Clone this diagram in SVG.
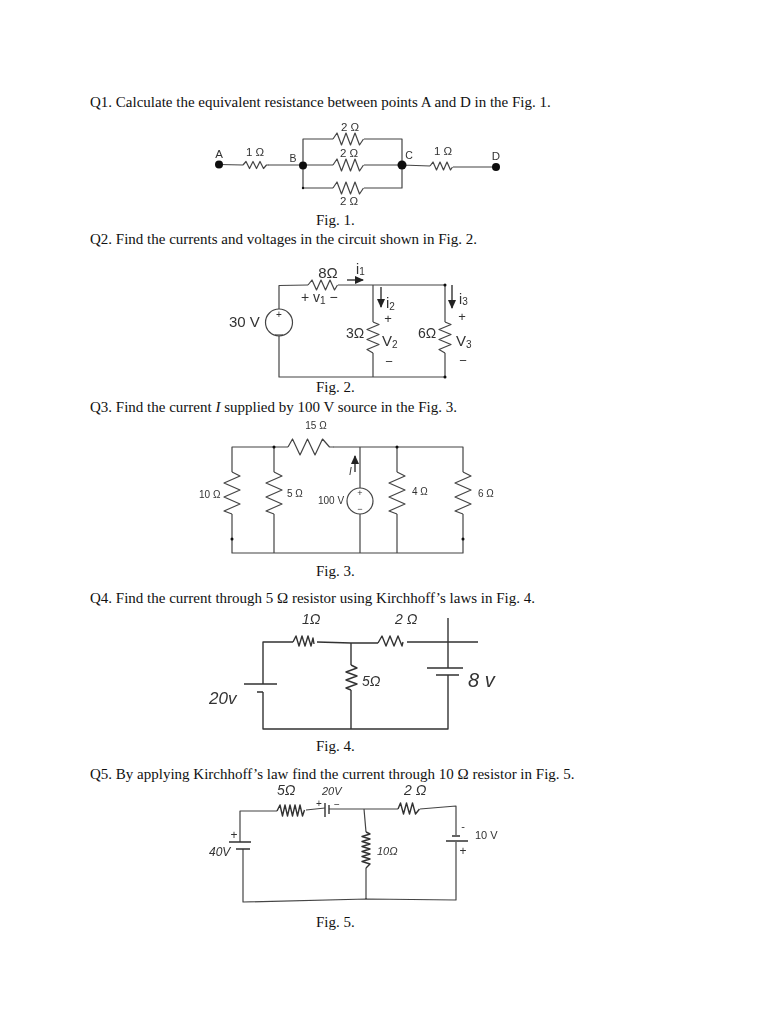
<svg xmlns="http://www.w3.org/2000/svg" width="768" height="1024" viewBox="0 0 768 1024">
<style>
.q{font-family:"Liberation Serif","Times New Roman",serif;font-size:15px;fill:#111}
.s{font-family:"Liberation Sans",Arial,sans-serif;fill:#333}
.h{font-family:"Liberation Sans",Arial,sans-serif;fill:#333;font-style:italic}
.w{fill:none;stroke:#444;stroke-width:1.200;stroke-linejoin:round}
.t{fill:none;stroke:#333;stroke-width:1.400;stroke-linejoin:round}
.f{fill:#111;stroke:none}
.soft{filter:url(#soft)}
</style>
<defs>
<filter id="soft" x="-5%" y="-5%" width="110%" height="110%"><feGaussianBlur stdDeviation="0.35"/></filter>
<marker id="ah" markerWidth="11" markerHeight="9" refX="8" refY="4" orient="auto" markerUnits="userSpaceOnUse"><path d="M0 0L9 4L0 8Z" fill="#222"/></marker>
</defs>
<rect width="768" height="1024" fill="#fff"/>
<g id="questions">
<text class="q" x="90" y="107">Q1. Calculate the equivalent resistance between points A and D in the Fig. 1.</text>
<text class="q" x="316" y="225">Fig. 1.</text>
<text class="q" x="90" y="244">Q2. Find the currents and voltages in the circuit shown in Fig. 2.</text>
<text class="q" x="316" y="392">Fig. 2.</text>
<text class="q" x="90" y="412">Q3. Find the current <tspan font-style="italic">I</tspan> supplied by 100 V source in the Fig. 3.</text>
<text class="q" x="316" y="576">Fig. 3.</text>
<text class="q" x="90" y="603">Q4. Find the current through 5 Ω resistor using Kirchhoff’s laws in Fig. 4.</text>
<text class="q" x="316" y="751">Fig. 4.</text>
<text class="q" x="90" y="779">Q5. By applying Kirchhoff’s law find the current through 10 Ω resistor in Fig. 5.</text>
<text class="q" x="316" y="927">Fig. 5.</text>
</g>
<g id="connectors" class="soft">
<path class="w" d="M219 164.500L243 165M268 165H303M333 139H303V188H333M364 139H402V188H364M303 165H333M364 165H402M402 165L430 166M453 167H496"/>
<path class="w" d="M279 309V285.500L308 285M338 285H445M373 285V322M373 353V377M445 285V322M445 353V377M279 336V377H445"/>
<path class="w" d="M232 472V447H288M333 447H463V472M232 514V553H463V514M274 447V472M274 514V553M397 447V472M397 514V553M360 447V488M360 514V553"/>
<path class="t" d="M263 684V642H293M317 642L351 643H378M407 642H478M351 643V665M351 690V729M263 692V729H448V675M448 618V668"/>
<path class="w" d="M240 842V811H277M306 810L325 808M329 809L364 809H398M420 809L456 806V835M364 809L366 832M366 868V899M456 842V900L367 899L243 902V849"/>
</g>
<g id="fig1-nodes" class="soft">
<g id="A"><circle class="f" cx="219" cy="164.500" r="4"/><text class="s" x="219" y="158" font-size="11.500" text-anchor="middle">A</text></g>
<g id="B"><circle class="f" cx="303" cy="165.500" r="4"/><text class="s" x="293" y="162" font-size="10.500" text-anchor="middle">B</text></g>
<g id="C"><circle class="f" cx="402" cy="165" r="4.500"/><text class="s" x="409" y="159" font-size="10.500" text-anchor="middle">C</text></g>
<g id="D"><circle class="f" cx="496" cy="167" r="4"/><text class="s" x="496" y="160" font-size="11.500" text-anchor="middle">D</text></g>
<circle class="f" cx="303" cy="188" r="1.200"/>
<g id="R1"><path class="w" d="M243 165l3-3.500 3.500 7 3.500-7 3.500 7 3.500-7 3.500 7 3 -3.500h2"/><text class="s" x="255" y="156" font-size="11.500" text-anchor="middle">1 Ω</text></g>
<g id="R2"><path class="w" d="M333 139l4-6 4.500 12 4.500-12 4.500 12 4.500-12 4.500 12 4-6"/><text class="s" x="350" y="131" font-size="11.500" text-anchor="middle">2 Ω</text></g>
<g id="R3"><path class="w" d="M333 165l4-6 4.500 12 4.500-12 4.500 12 4.500-12 4.500 12 4-6"/><text class="s" x="349" y="157" font-size="11.500" text-anchor="middle">2 Ω</text></g>
<g id="R4"><path class="w" d="M333 188l4-6 4.500 12 4.500-12 4.500 12 4.500-12 4.500 12 4-6"/><text class="s" x="349" y="205" font-size="11.500" text-anchor="middle">2 Ω</text></g>
<g id="R5"><path class="w" d="M430 166l3-4 3.500 8 3.500-8 3.500 8 3.500-8 3.500 8 2-3"/><text class="s" x="443" y="155" font-size="11.500" text-anchor="middle">1 Ω</text></g>
</g>
<g id="fig2-nodes" class="soft">
<g id="V30"><circle class="w" cx="279" cy="322.500" r="13.500"/><text class="s" x="279" y="318" font-size="10" text-anchor="middle">+</text><path class="w" d="M275 335h8"/><text class="s" x="229" y="327" font-size="15">30 V</text></g>
<g id="R8"><path class="w" d="M308 285l4-5 4.500 10 4.500-10 4.500 10 4.500-10 4.500 10 3-5"/><text class="s" x="328" y="278" font-size="15" text-anchor="middle">8Ω</text><text class="s" x="301" y="302" font-size="14">+ v<tspan font-size="10" dy="2">1</tspan><tspan dy="-2"> −</tspan></text></g>
<g id="i1"><path class="t" d="M347 280H363" marker-end="url(#ah)"/><text class="s" x="356" y="274" font-size="14">i<tspan font-size="10" dy="1">1</tspan></text></g>
<g id="R3ohm"><path class="w" d="M373 322l6 2.500-12 5 12 5-12 5 12 5-12 5 6 3.500"/><text class="s" x="346" y="338" font-size="14">3Ω</text><text class="s" x="382" y="346" font-size="15">V<tspan font-size="10" dy="2">2</tspan></text><text class="s" x="388" y="323" font-size="13" text-anchor="middle">+</text><text class="s" x="389" y="366" font-size="13" text-anchor="middle">−</text></g>
<g id="i2"><path class="t" d="M381 287V307" marker-end="url(#ah)"/><text class="s" x="386" y="308" font-size="15">i<tspan font-size="10" dy="2">2</tspan></text></g>
<g id="R6ohm"><path class="w" d="M445 322l6 2.500-12 5 12 5-12 5 12 5-12 5 6 3.500"/><text class="s" x="418" y="338" font-size="14">6Ω</text><text class="s" x="456" y="346" font-size="15">V<tspan font-size="10" dy="2">3</tspan></text><text class="s" x="462" y="321" font-size="13" text-anchor="middle">+</text><text class="s" x="463" y="365" font-size="13" text-anchor="middle">−</text></g>
<g id="i3"><path class="t" d="M452 285V308" marker-end="url(#ah)"/><text class="s" x="459" y="304" font-size="14">i<tspan font-size="10" dy="1">3</tspan></text></g>
<circle class="f" cx="445" cy="285" r="1.500"/><circle class="f" cx="445" cy="377" r="1.500"/>
</g>
<g id="fig3-nodes" class="soft">
<g id="R15"><path class="w" d="M288 447l4.500-8 7.500 16 7.500-16 7.500 16 7.500-16 7 8h4"/><text class="s" x="316" y="429" font-size="10" text-anchor="middle">15 Ω</text></g>
<g id="R10"><path class="w" d="M232 472l8 4-16 7 16 7-16 7 16 7-16 7 8 3"/><text class="s" x="199" y="498" font-size="10">10 Ω</text></g>
<g id="R5b"><path class="w" d="M274 472l8 4-16 7 16 7-16 7 16 7-16 7 8 3"/><text class="s" x="287" y="497" font-size="10">5 Ω</text></g>
<g id="V100"><circle cx="360" cy="501" r="13" fill="#fff" stroke="#444" stroke-width="1.200"/><text class="s" x="360" y="496" font-size="9" text-anchor="middle">+</text><text class="s" x="360" y="512" font-size="9" text-anchor="middle">−</text><text class="s" x="318" y="504" font-size="10">100 V</text></g>
<g id="R4b"><path class="w" d="M397 472l8 4-16 7 16 7-16 7 16 7-16 7 8 3"/><text class="s" x="412" y="495" font-size="10">4 Ω</text></g>
<g id="R6b"><path class="w" d="M463 472l8 4-16 7 16 7-16 7 16 7-16 7 8 3"/><text class="s" x="478" y="497" font-size="10">6 Ω</text></g>
<g id="iI"><path class="t" d="M355 472V456" marker-end="url(#ah)"/><text class="s" x="349" y="475" font-size="10" font-style="italic">I</text></g>
<circle class="f" cx="274" cy="447" r="1.500"/><circle class="f" cx="397" cy="447" r="1.500"/><circle class="f" cx="232" cy="539" r="1.500"/><circle class="f" cx="463" cy="539" r="1.500"/>
</g>
<g id="fig4-nodes" class="soft">
<g id="R1d"><path class="t" d="M293 642l3-6 3 10 3-10 3 10 3-10 3 10 2-8 1 6"/><text class="h" x="302" y="624" font-size="14">1Ω</text></g>
<g id="R2d"><path class="t" d="M378 643l4-7 4 10 4-10 4 10 4-10 4 10 1-4"/><text class="h" x="395" y="624" font-size="14">2 Ω</text></g>
<g id="R5d"><path class="t" d="M351 665l6 3-11 4 11 4-11 4 11 4-11 4 5 2"/><text class="h" x="362" y="686" font-size="14">5Ω</text></g>
<g id="V20"><path class="t" d="M244 684H277M257 692H263"/><text class="h" x="209" y="704" font-size="17">20v</text></g>
<g id="V8"><path class="t" d="M427 668H463M436 675H459"/><text class="h" x="468" y="687" font-size="20">8 v</text></g>
</g>
<g id="fig5-nodes" class="soft">
<g id="R5e"><path class="t" d="M277 811l3-6 2.500 11 2.500-11 2.500 11 2.500-11 2.500 11 2.500-11 2.500 11 2.500-11 2.500 11 2-6"/><text class="h" x="277" y="795" font-size="14">5Ω</text></g>
<g id="V20e"><path class="t" d="M325 803V817M329 805V814"/><text class="h" x="322" y="795" font-size="11">20V</text><text class="s" x="319" y="807" font-size="10" text-anchor="middle">+</text><text class="s" x="337" y="808" font-size="10" text-anchor="middle">−</text></g>
<g id="R2e"><path class="t" d="M398 809l2.500-6 3 11 3-11 3 11 3-11 3 11 4-5"/><text class="h" x="404" y="795" font-size="14">2 Ω</text></g>
<g id="R10e"><path class="t" d="M366 832l4 2-8 2.500 8 2.500-8 2.500 8 2.500-8 2.500 8 2.500-8 2.500 8 2.500-8 2.500 8 2.500-8 2.500 8 2.500-4 4"/><text class="h" x="377" y="855" font-size="11">10Ω</text></g>
<g id="V40"><path class="t" d="M229 842H251M236 849H250"/><text class="h" x="209" y="856" font-size="12">40V</text><text class="s" x="234" y="839" font-size="12" text-anchor="middle">+</text></g>
<g id="V10"><path class="t" d="M452 836H460M446 841H468"/><text class="s" x="475" y="839" font-size="11">10 V</text><text class="s" x="463" y="830" font-size="11" text-anchor="middle">-</text><text class="s" x="463" y="855" font-size="12" text-anchor="middle">+</text></g>
</g>
</svg>
